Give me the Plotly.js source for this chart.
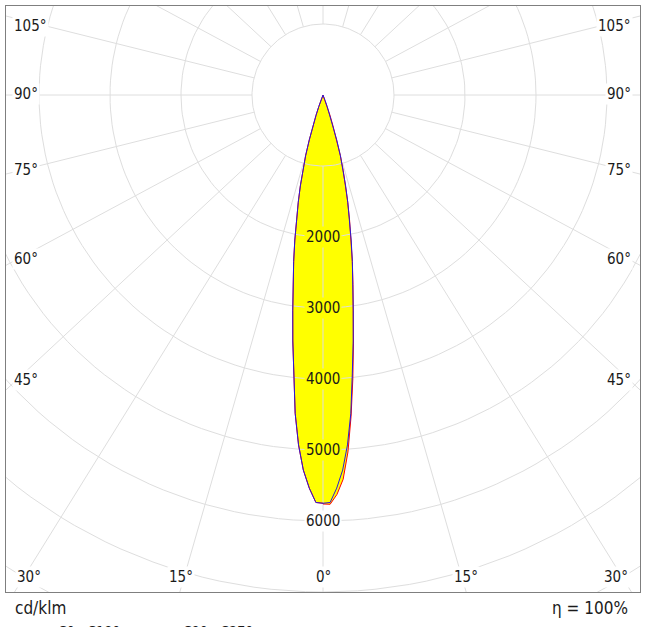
<!DOCTYPE html>
<html><head><meta charset="utf-8">
<script src="https://cdn.plot.ly/plotly-3.0.1.min.js"></script>
<style>html,body{margin:0;padding:0;background:#fff;}#chart{width:650px;height:627px;}</style>
</head><body><div id="chart"></div>
<script>
// ---- data (cd/klm) ----
const gammaDeg = [0,1,2,3,4,5,6,7,8,9,10,11,12,13,14,15,16,17,18,19,20,21,22,23];
const intensityC0   = [5760,5765,5630,5420,5040,4540,4020,3520,3070,2700,2380,2080,1800,1550,1320,1100,890,660,450,300,170,80,20,0];
const intensityC180 = [5750,5740,5540,5290,4940,4500,3950,3490,3060,2700,2380,2080,1800,1550,1320,1100,890,660,450,300,170,80,20,0];
const intensityC90  = [5750,5740,5540,5290,4940,4500,3950,3490,3060,2700,2380,2080,1800,1550,1320,1100,890,660,450,300,170,80,20,0];
const intensityC270 = [5750,5740,5540,5290,4940,4500,3950,3490,3060,2700,2380,2080,1800,1550,1320,1100,890,660,450,300,170,80,20,0];
const ringValues = [1000,2000,3000,4000,5000,6000,7000,8000,9000];
const ringLabelValues = [2000,3000,4000,5000,6000];
const spokeAngles = [0,15,30,45,60,75,90,105,120,135,150,165,180,195,210,225,240,255,270,285,300,315,330,345];
const sideAngleLabels = ['105°','90°','75°','60°','45°'];
const bottomAngleLabels = ['30°','15°','0°','15°','30°'];
const seriesNames = ['C0 - C180','C90 - C270'];
const unitLabel = 'cd/klm';
const efficiencyLabel = 'η = 100%';

// ---- geometry helpers ----
const D = Math.PI/180;
function lobe(rightVals, leftVals){
  const xs=[], ys=[];
  for(let i=gammaDeg.length-1;i>=0;i--){const g=gammaDeg[i]*D; xs.push(-leftVals[i]*Math.sin(g)); ys.push(-leftVals[i]*Math.cos(g));}
  for(let i=0;i<gammaDeg.length;i++){const g=gammaDeg[i]*D; xs.push(rightVals[i]*Math.sin(g)); ys.push(-rightVals[i]*Math.cos(g));}
  return {x:xs,y:ys};
}
const red = lobe(intensityC0, intensityC180);
const blue = lobe(intensityC90, intensityC270);

const cx=[], cy=[];
ringValues.forEach(r=>{ for(let a=0;a<=360;a+=2){cx.push(r*Math.sin(a*D)); cy.push(-r*Math.cos(a*D));} cx.push(null); cy.push(null); });
// spokes (the reference draws them with a slightly widened horizontal spread)
const spokeSpread = 1.075;
const sx=[], sy=[];
spokeAngles.forEach(a=>{
  let dx = spokeSpread*Math.sin(a*D), dy = -Math.cos(a*D);
  const n = Math.hypot(dx,dy); dx/=n; dy/=n;
  sx.push(ringValues[0]*dx, 12000*dx, null); sy.push(ringValues[0]*dy, 12000*dy, null);
});

const gridStyle = {color:'#dedede', width:1};
const traces = [
  {type:'scatter', mode:'lines', x:red.x, y:red.y, fill:'toself', fillcolor:'#ffff00', line:{width:0,color:'#ffff00'}, showlegend:false, hoverinfo:'skip'},
  {type:'scatter', mode:'lines', x:blue.x, y:blue.y, fill:'toself', fillcolor:'#ffff00', line:{width:0,color:'#ffff00'}, showlegend:false, hoverinfo:'skip'},
  {type:'scatter', mode:'lines', x:cx, y:cy, line:gridStyle, showlegend:false, hoverinfo:'skip'},
  {type:'scatter', mode:'lines', x:sx, y:sy, line:gridStyle, showlegend:false, hoverinfo:'skip'},
  {type:'scatter', mode:'lines', x:red.x, y:red.y, name:seriesNames[0], line:{color:'#ff0000', width:1}},
  {type:'scatter', mode:'lines', x:blue.x, y:blue.y, name:seriesNames[1], line:{color:'#2a1ad8', width:1}}
];

// pixel -> paper helpers (plot area 6..640 x 6..592)
const L=6, T=6, W=634, H=586;
const px = p => (p-L)/W;
const py = p => (T+H-p)/H;
const FONT = 'DejaVu Sans Condensed, DejaVu Sans, sans-serif';
const annFont = {family:FONT, size:15, color:'#1a1a1a'};
const ann = [];
const sideY = [26,94,170,259,380];
sideAngleLabels.forEach((t,i)=>{
  ann.push({xref:'paper',yref:'paper',x:px(12),y:py(sideY[i]),xanchor:'left',yanchor:'middle',text:t,showarrow:false,font:annFont,bgcolor:'#ffffff',borderpad:1});
  ann.push({xref:'paper',yref:'paper',x:px(633),y:py(sideY[i]),xanchor:'right',yanchor:'middle',text:t,showarrow:false,font:annFont,bgcolor:'#ffffff',borderpad:1});
});
const bottomX = [29,181,323,466,616];
bottomAngleLabels.forEach((t,i)=>{
  ann.push({xref:'paper',yref:'paper',x:px(bottomX[i]),y:py(577),xanchor:'center',yanchor:'middle',text:t,showarrow:false,font:annFont,bgcolor:'#ffffff',borderpad:1});
});
ringLabelValues.forEach(v=>{
  ann.push({xref:'x',yref:'y',x:0,y:-v,xanchor:'center',yanchor:'middle',text:String(v),showarrow:false,font:annFont,bgcolor: v<6000?'#ffff00':'#ffffff',borderpad:1});
});
ann.push({xref:'paper',yref:'paper',x:px(13),y:py(608),xanchor:'left',yanchor:'middle',text:unitLabel,showarrow:false,font:{family:FONT,size:17,color:'#1a1a1a'}});
ann.push({xref:'paper',yref:'paper',x:px(630),y:py(608),xanchor:'right',yanchor:'middle',text:efficiencyLabel,showarrow:false,font:{family:FONT,size:17,color:'#1a1a1a'}});

const axisCommon = {showgrid:false, zeroline:false, showticklabels:false, ticks:'', showline:true, mirror:true, linecolor:'#7f7f7f', linewidth:1, fixedrange:true};
const layout = {
  width:650, height:627,
  margin:{l:L, r:650-L-W, t:T, b:627-T-H, autoexpand:false},
  paper_bgcolor:'#ffffff', plot_bgcolor:'#ffffff',
  xaxis:Object.assign({range:[-4465,4465]}, axisCommon),
  yaxis:Object.assign({range:[-7000,1254]}, axisCommon),
  showlegend:true,
  legend:{orientation:'h', x:px(8), xanchor:'left', y:py(615), yanchor:'top', font:{family:FONT,size:14,color:'#1a1a1a'}, itemwidth:40, entrywidth:70, entrywidthmode:'pixels', bgcolor:'rgba(0,0,0,0)'},
  annotations:ann
};
Plotly.newPlot('chart', traces, layout, {staticPlot:true, displayModeBar:false});
</script>
</body></html>
